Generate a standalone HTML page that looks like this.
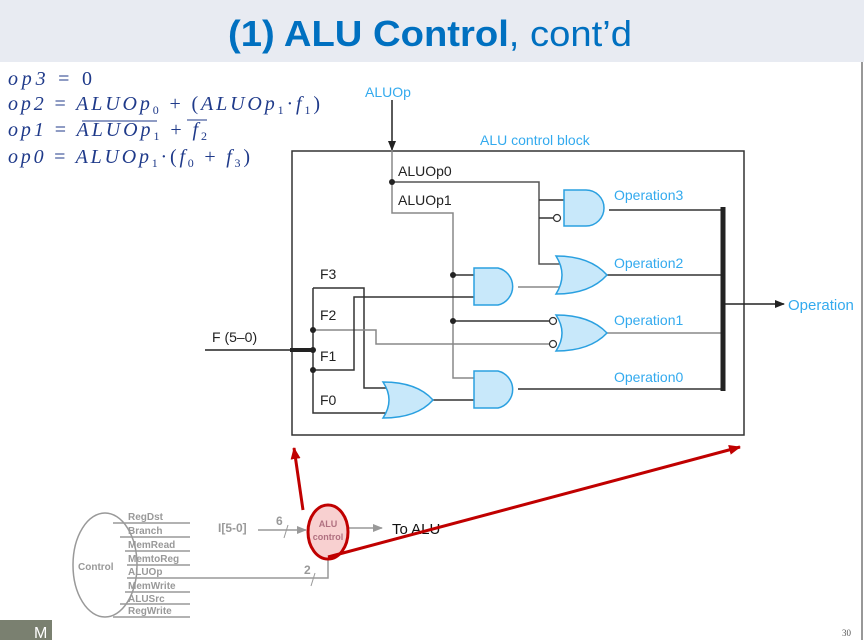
<!DOCTYPE html>
<html><head><meta charset="utf-8"><style>
body{margin:0;width:864px;height:640px;overflow:hidden;background:#fff;font-family:"Liberation Sans",sans-serif}
</style></head><body>
<svg width="864" height="640" xmlns="http://www.w3.org/2000/svg" style="position:absolute;left:0;top:0">
<defs>
<marker id="ab" markerWidth="10" markerHeight="8" refX="9" refY="4" orient="auto" markerUnits="userSpaceOnUse"><path d="M0,0 L10,4 L0,8z" fill="#222"/></marker>
<marker id="ag" markerWidth="10" markerHeight="8" refX="9" refY="4" orient="auto" markerUnits="userSpaceOnUse"><path d="M0,0 L10,4 L0,8z" fill="#999"/></marker>
<marker id="ar" markerWidth="12" markerHeight="10" refX="11" refY="5" orient="auto" markerUnits="userSpaceOnUse"><path d="M0,0 L12,5 L0,10z" fill="#c00000"/></marker>
</defs>
<rect x="0" y="0" width="864" height="62" fill="#e8ebf2"/>
<text x="430" y="46" text-anchor="middle" font-size="36" fill="#0070c0" textLength="404" lengthAdjust="spacingAndGlyphs"><tspan font-weight="bold">(1) ALU Control</tspan>, cont’d</text>
<line x1="862" y1="62" x2="862" y2="640" stroke="#777" stroke-width="1.5"/>
<g font-family="Liberation Serif,serif" font-style="italic" font-size="20" fill="#1f3a8a">
<text x="8" y="85" textLength="84">op3 <tspan font-style="normal">=</tspan> <tspan font-style="normal">0</tspan></text>
<text x="8" y="110" textLength="312">op2 <tspan font-style="normal">=</tspan> ALUOp<tspan font-size="12" font-style="normal" dy="4">0</tspan><tspan dy="-4" font-style="normal"> + (</tspan>ALUOp<tspan font-size="12" font-style="normal" dy="4">1</tspan><tspan dy="-4" font-style="normal">·</tspan>f<tspan font-size="12" font-style="normal" dy="4">1</tspan><tspan dy="-4" font-style="normal">)</tspan></text>
<text x="8" y="136" textLength="199">op1 <tspan font-style="normal">=</tspan> ALUOp<tspan font-size="12" font-style="normal" dy="4">1</tspan><tspan dy="-4" font-style="normal"> + </tspan>f<tspan font-size="12" font-style="normal" dy="4">2</tspan></text>
<text x="8" y="163" textLength="242">op0 <tspan font-style="normal">=</tspan> ALUOp<tspan font-size="12" font-style="normal" dy="4">1</tspan><tspan dy="-4" font-style="normal">·(</tspan>f<tspan font-size="12" font-style="normal" dy="4">0</tspan><tspan dy="-4" font-style="normal"> + </tspan>f<tspan font-size="12" font-style="normal" dy="4">3</tspan><tspan dy="-4" font-style="normal">)</tspan></text>
</g>
<line x1="82" y1="121" x2="157" y2="121" stroke="#1f3a8a" stroke-width="1"/>
<line x1="187" y1="120" x2="207" y2="120" stroke="#1f3a8a" stroke-width="1"/>
<text x="365" y="97" font-size="14" fill="#33aaee">ALUOp</text>
<text x="480" y="145" font-size="14" fill="#33aaee">ALU control block</text>
<rect x="292" y="151" width="452" height="284" fill="none" stroke="#333" stroke-width="1.5"/>
<g fill="none" stroke-width="1.5">
<line x1="392" y1="100" x2="392" y2="150" stroke="#222" marker-end="url(#ab)"/>
<polyline points="392,150 392,213 453,213 453,378 474,378" stroke="#888"/>
<polyline points="392,182 539,182 539,264 560,264" stroke="#555"/>
<line x1="539" y1="200" x2="564" y2="200" stroke="#333"/>
<line x1="539" y1="218" x2="554" y2="218" stroke="#333"/>
<line x1="453" y1="275" x2="474" y2="275" stroke="#333"/>
<line x1="453" y1="321" x2="550" y2="321" stroke="#333"/>
<line x1="518" y1="287" x2="561" y2="287" stroke="#888"/>
<line x1="609" y1="210" x2="723" y2="210" stroke="#333"/>
<line x1="607" y1="275" x2="723" y2="275" stroke="#333"/>
<line x1="607" y1="333" x2="723" y2="333" stroke="#888"/>
<line x1="518" y1="389" x2="723" y2="389" stroke="#333"/>
<line x1="433" y1="400" x2="474" y2="400" stroke="#333"/>
<polyline points="313,288 364,288 364,388 388,388" stroke="#333"/>
<polyline points="313,288 313,413 387,413" stroke="#333"/>
<polyline points="313,330 376,330 376,344 550,344" stroke="#888"/>
<polyline points="313,370 354,370 354,297 474,297" stroke="#333"/>
<line x1="723" y1="304" x2="784" y2="304" stroke="#222" marker-end="url(#ab)"/>
<line x1="205" y1="350" x2="290" y2="350" stroke="#222"/>
</g>
<line x1="290" y1="350" x2="313" y2="350" stroke="#222" stroke-width="4"/>
<line x1="723" y1="207" x2="723" y2="391" stroke="#222" stroke-width="5"/>
<g fill="#222"><circle cx="392" cy="182" r="3"/><circle cx="453" cy="275" r="3"/><circle cx="453" cy="321" r="3"/><circle cx="313" cy="330" r="3"/><circle cx="313" cy="350" r="3"/><circle cx="313" cy="370" r="3"/></g>
<g fill="#c8e8fa" stroke="#2aa0e0" stroke-width="1.5">
<path d="M564,190 h22 a18,18 0 0 1 0,36 h-22z"/>
<path d="M474,268 h24 a19,19 0 0 1 0,37 h-24z"/>
<path d="M474,371 h24 a19,19 0 0 1 0,37 h-24z"/>
<path d="M556,256 Q568,275 556,294 Q590,294 607,275 Q590,256 556,256z"/>
<path d="M556,315 Q568,333 556,351 Q590,351 607,333 Q590,315 556,315z"/>
<path d="M383,382 Q395,400 383,418 Q417,418 433,400 Q417,382 383,382z"/>
</g>
<g fill="#fff" stroke="#333" stroke-width="1.2"><circle cx="557" cy="218" r="3.5"/><circle cx="553" cy="321" r="3.5"/><circle cx="553" cy="344" r="3.5"/></g>
<g font-size="14" fill="#222">
<text x="398" y="176">ALUOp0</text><text x="398" y="205">ALUOp1</text>
<text x="320" y="279">F3</text><text x="320" y="320">F2</text><text x="320" y="361">F1</text><text x="320" y="405">F0</text>
<text x="212" y="342">F (5–0)</text>
</g>
<g font-size="14" fill="#33aaee">
<text x="614" y="200">Operation3</text><text x="614" y="268">Operation2</text>
<text x="614" y="325">Operation1</text><text x="614" y="382">Operation0</text>
<text x="788" y="310" font-size="15">Operation</text>
</g>
<ellipse cx="105" cy="565" rx="32" ry="52" fill="none" stroke="#999" stroke-width="1.5"/>
<g stroke="#999" stroke-width="1.5">
<line x1="113" y1="523" x2="190" y2="523"/><line x1="120" y1="537" x2="190" y2="537"/><line x1="125" y1="551" x2="190" y2="551"/><line x1="127" y1="565" x2="190" y2="565"/><line x1="127" y1="578" x2="190" y2="578"/><line x1="125" y1="592" x2="190" y2="592"/><line x1="120" y1="604" x2="190" y2="604"/><line x1="113" y1="617" x2="190" y2="617"/>
<polyline points="190,578 328,578 328,559" fill="none"/>
<line x1="258" y1="530" x2="306" y2="530" marker-end="url(#ag)"/>
<line x1="348" y1="528" x2="382" y2="528" marker-end="url(#ag)"/>
<line x1="284" y1="538" x2="288" y2="525" stroke-width="1"/><line x1="311" y1="586" x2="315" y2="573" stroke-width="1"/>
</g>
<g font-size="10" font-weight="bold" fill="#999">
<text x="78" y="570">Control</text>
<text x="128" y="520">RegDst</text><text x="128" y="534">Branch</text><text x="128" y="548">MemRead</text><text x="128" y="562">MemtoReg</text><text x="128" y="575">ALUOp</text><text x="128" y="589">MemWrite</text><text x="128" y="602">ALUSrc</text><text x="128" y="614">RegWrite</text>
<text x="218" y="532" font-size="12">I[5-0]</text><text x="276" y="525" font-size="12">6</text><text x="304" y="574" font-size="12">2</text>
</g>
<ellipse cx="328" cy="532" rx="20" ry="27" fill="#f8d0d0" stroke="#c00000" stroke-width="3"/>
<text x="328" y="527" font-size="9" font-weight="bold" fill="#b07080" text-anchor="middle">ALU</text>
<text x="328" y="540" font-size="9" font-weight="bold" fill="#b07080" text-anchor="middle">control</text>
<text x="392" y="534" font-size="15" fill="#111">To ALU</text>
<line x1="303" y1="510" x2="294" y2="448" stroke="#c00000" stroke-width="3" marker-end="url(#ar)"/>
<line x1="328" y1="557" x2="740" y2="447" stroke="#c00000" stroke-width="3" marker-end="url(#ar)"/>
<rect x="0" y="620" width="52" height="20" fill="#7a8070"/>
<text x="34" y="638" font-size="16" fill="#fff">M</text>
<text x="842" y="636" font-size="9" fill="#555" font-family="Liberation Serif,serif">30</text>
</svg>
</body></html>
